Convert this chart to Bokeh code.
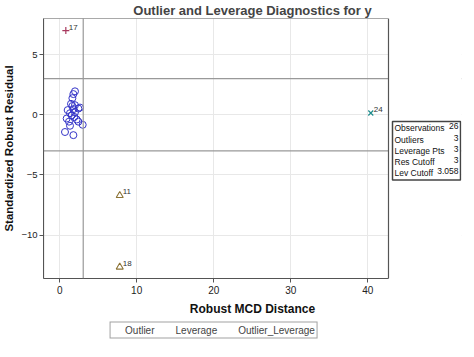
from bokeh.plotting import figure
from bokeh.models import (ColumnDataSource, Span, Label, Legend, LegendItem,
                          FixedTicker, Range1d, BoxAnnotation)
from bokeh.layouts import column
from bokeh.embed import file_html
from bokeh.resources import INLINE

# ---- data ----
normal_x = [1.99, 1.78, 1.65, 1.47, 1.99, 2.43, 2.64, 1.04, 1.78, 1.34, 1.99,
            1.56, 0.91, 1.91, 2.21, 1.21, 2.43, 2.99, 1.34, 0.69, 1.78, 1.65]
normal_y = [1.95, 1.72, 1.38, 0.91, 0.80, 0.52, 0.60, 0.39, 0.47, 0.13, 0.21,
            -0.05, -0.31, -0.18, -0.39, -0.57, -0.57, -0.83, -0.91, -1.43, -1.69, 0.73]
outlier_x = [0.8]
outlier_y = [7.0]
outlier_lab = ["17"]
leverage_x = [40.4]
leverage_y = [0.15]
leverage_lab = ["24"]
ol_x = [7.8, 7.8]
ol_y = [-6.7, -12.65]
ol_lab = ["11", "18"]
res_cutoff = 3
lev_cutoff = 3.058
table_names = ["Observations", "Outliers", "Leverage Pts", "Res Cutoff", "Lev Cutoff"]
table_vals = ["26", "3", "3", "3", "3.058"]
legend_labels = ["Outlier", "Leverage", "Outlier_Leverage"]
x_ticks = [0, 10, 20, 30, 40]
y_ticks = [-10, -5, 0, 5]

FONT = "Liberation Sans"
C_OUT = "#A8385E"
C_LEV = "#1E8C8C"
C_OL = "#8C7335"
C_N = "#3535C8"

# plot box (axes region) and extra room on the right for the stats table
XMIN, XMAX = -2.1, 42.7
YMIN, YMAX = -13.6, 8.0
BOX_W = 345
FRAME_W = 418
FRAME_H = 264
XEND = XMIN + (XMAX - XMIN) * FRAME_W / BOX_W

p = figure(frame_width=FRAME_W, height=318, output_backend="svg",
           toolbar_location=None, x_range=Range1d(XMIN, XEND),
           y_range=Range1d(YMIN, YMAX), min_border_left=0, min_border_right=2,
           min_border_top=0, min_border_bottom=0)
p.title.text = "Outlier and Leverage Diagnostics for y"
p.title.align = "center"
p.title.offset = -(FRAME_W - BOX_W) / 2
p.title.text_font = FONT
p.title.text_font_size = "13px"
p.title.text_font_style = "bold"
p.title.standoff = 1

p.outline_line_color = None
for ax in (p.xaxis[0], p.yaxis[0]):
    ax.axis_line_color = "#555555"
    ax.major_tick_line_color = "#555555"
    ax.minor_tick_line_color = None
    ax.major_tick_out = 4
    ax.major_tick_in = 0
    ax.major_label_text_font = FONT
    ax.major_label_text_font_size = "10px"
    ax.major_label_text_color = "#222222"
    ax.axis_label_text_font = FONT
    ax.axis_label_text_font_size = "12px"
    ax.axis_label_text_font_style = "bold"
    ax.axis_label_text_color = "#111111"
p.xaxis.bounds = (XMIN, XMAX)
p.yaxis.major_label_text_font_size = "9.5px"
p.yaxis.axis_label_text_font_size = "11.5px"
p.xaxis.ticker = FixedTicker(ticks=x_ticks)
p.yaxis.ticker = FixedTicker(ticks=y_ticks)
p.xaxis.axis_label = "Robust MCD Distance"
p.yaxis.axis_label = "Standardized Robust Residual"
p.xaxis.axis_label_standoff = 5
p.yaxis.axis_label_standoff = 3
p.xaxis.major_label_standoff = 3
p.yaxis.major_label_standoff = 2
p.xgrid.ticker = FixedTicker(ticks=x_ticks)
p.ygrid.ticker = FixedTicker(ticks=y_ticks)
p.grid.grid_line_color = "#E8E8E8"

for loc in (res_cutoff, -res_cutoff):
    p.add_layout(Span(location=loc, dimension="width", line_color="#999999", line_width=1.2))
p.add_layout(Span(location=lev_cutoff, dimension="height", line_color="#999999", line_width=1.2))

# mask the area right of the plot box, then draw the box outline
p.add_layout(BoxAnnotation(left=XMAX, fill_color="white", fill_alpha=1, line_color=None))
p.add_layout(BoxAnnotation(left=XMIN, right=XMAX, bottom=YMIN, top=YMAX,
                           fill_color=None, fill_alpha=0, line_color="#555555",
                           line_width=1.2, line_alpha=1))

p.scatter(normal_x, normal_y, marker="circle", size=7, fill_color=None,
          line_color=C_N, line_width=1)
p.scatter(outlier_x, outlier_y, marker="cross", size=7, line_color=C_OUT, line_width=1.2)
p.scatter(leverage_x, leverage_y, marker="x", size=7, line_color=C_LEV, line_width=1.2)
p.scatter(ol_x, ol_y, marker="triangle", size=7, fill_color=None,
          line_color=C_OL, line_width=1.1)

for xs, ys, labs in ((outlier_x, outlier_y, outlier_lab), (leverage_x, leverage_y, leverage_lab),
                     (ol_x, ol_y, ol_lab)):
    src = ColumnDataSource(dict(x=xs, y=ys, t=labs))
    p.text("x", "y", text="t", source=src, x_offset=3, y_offset=-1,
           text_font_size="8px", text_color="#333333", text_baseline="bottom")

# ---- inset stats table (placed inside frame, right of the box) ----
px_per_x = BOX_W / (XMAX - XMIN)
y_per_px = (YMAX - YMIN) / FRAME_H
TL = BOX_W + 4           # px from frame left
TR = FRAME_W - 1
T_TOP_Y = -0.55          # y value of table top edge
ROW_PX = 11.3
p.add_layout(BoxAnnotation(left=XMIN + TL / px_per_x, right=XMIN + TR / px_per_x,
                           top=T_TOP_Y, bottom=T_TOP_Y - (5 * ROW_PX + 3) * y_per_px,
                           fill_color="white", fill_alpha=1, line_color="#444444",
                           line_width=1.5, line_alpha=1))
for i, (nm, vl) in enumerate(zip(table_names, table_vals)):
    yy = T_TOP_Y - (2 + i * ROW_PX) * y_per_px
    p.add_layout(Label(x=XMIN + (TL + 2) / px_per_x, y=yy, text=nm,
                       text_font=FONT, text_font_size="8.5px", text_baseline="top",
                       text_color="#111111"))
    p.add_layout(Label(x=XMIN + (TR - 2) / px_per_x, y=yy, text=vl,
                       text_font=FONT, text_font_size="8.5px", text_baseline="top",
                       text_align="right", text_color="#111111"))

# ---- legend strip below the plot ----
lf = figure(width=458, height=23, output_backend="svg", toolbar_location=None,
            x_range=Range1d(0, 1), y_range=Range1d(0, 1),
            x_axis_type=None, y_axis_type=None,
            min_border_left=39, min_border_right=74, min_border_top=0, min_border_bottom=0)
lf.outline_line_color = None
g1 = lf.scatter(x=[], y=[], marker="cross", size=7, line_color=C_OUT, line_width=1.2)
g2 = lf.scatter(x=[], y=[], marker="x", size=7, line_color=C_LEV, line_width=1.2)
g3 = lf.scatter(x=[], y=[], marker="triangle", size=7, fill_color=None,
                line_color=C_OL, line_width=1.1)
legend = Legend(items=[LegendItem(label=legend_labels[0], renderers=[g1]),
                       LegendItem(label=legend_labels[1], renderers=[g2]),
                       LegendItem(label=legend_labels[2], renderers=[g3])],
                orientation="horizontal", location="center",
                label_text_font=FONT, label_text_font_size="10px",
                label_height=10, glyph_height=10, glyph_width=10,
                label_standoff=3, spacing=8, padding=2, margin=0,
                border_line_color="#444444", border_line_width=1.5)
lf.add_layout(legend)

layout = column(p, lf)
open("out.html", "w").write(file_html(layout, INLINE))
